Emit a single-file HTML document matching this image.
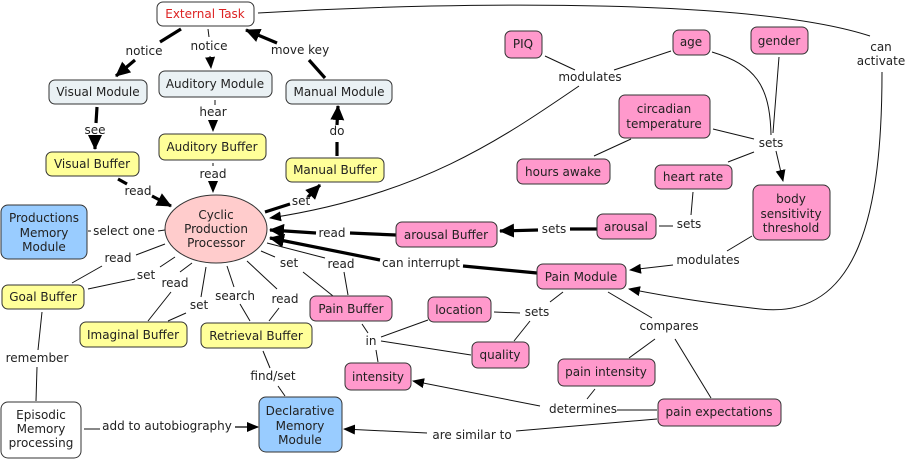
<!DOCTYPE html>
<html><head><meta charset="utf-8"><style>
html,body{margin:0;padding:0;background:#fff;}
svg{display:block;font-family:"DejaVu Sans","Liberation Sans",sans-serif;font-size:12px;}
text{fill:#222;}
.n{stroke:#333;stroke-width:1;}
.l{stroke:#111;stroke-width:1;fill:none;}
.t{stroke:#000;stroke-width:3.2;fill:none;}
</style></head><body>
<svg width="909" height="460" viewBox="0 0 909 460" xmlns="http://www.w3.org/2000/svg">
<defs>
<marker id="a" markerUnits="userSpaceOnUse" markerWidth="16" markerHeight="14" refX="14" refY="7" orient="auto"><path d="M0,0 L15,7 L0,14 z" fill="#000"/></marker>
<marker id="s" markerUnits="userSpaceOnUse" markerWidth="12" markerHeight="10" refX="11" refY="5" orient="auto"><path d="M0,0 L12,5 L0,10 z" fill="#000"/></marker>
</defs>

<!-- connectors -->
<line class="t" x1="181" y1="29" x2="160" y2="42"/><line class="t" x1="135" y1="60" x2="116" y2="76" marker-end="url(#a)"/>
<line class="l" x1="208" y1="29" x2="209" y2="37"/><line class="l" x1="210" y1="56" x2="211" y2="68" marker-end="url(#s)"/>
<line class="t" x1="325" y1="78" x2="309" y2="60"/><line class="t" x1="277" y1="43" x2="246" y2="30" marker-end="url(#a)"/>
<line class="t" x1="97" y1="107" x2="96" y2="123"/><line class="t" x1="95" y1="137" x2="95" y2="149" marker-end="url(#a)"/>
<line class="l" x1="215" y1="100" x2="215" y2="105"/><line class="l" x1="213" y1="120" x2="213" y2="131" marker-end="url(#s)"/>
<line class="l" x1="213" y1="163" x2="213" y2="166"/><line class="l" x1="213" y1="181" x2="213" y2="192" marker-end="url(#s)"/>
<line class="t" x1="337" y1="156" x2="337" y2="142"/><line class="t" x1="337" y1="125" x2="338" y2="106" marker-end="url(#a)"/>
<line class="t" x1="118" y1="179" x2="127" y2="184"/><line class="t" x1="152" y1="196" x2="171" y2="206" marker-end="url(#a)"/>
<line class="t" x1="265" y1="212" x2="290" y2="204"/><line class="t" x1="308" y1="197" x2="320" y2="185" marker-end="url(#a)"/>
<line class="l" x1="88" y1="231" x2="91" y2="231"/><line class="l" x1="158" y1="231" x2="165" y2="230"/>
<line class="t" x1="396" y1="235" x2="350" y2="233"/><line class="t" x1="316" y1="233" x2="270" y2="230" marker-end="url(#a)"/>
<line class="t" x1="597" y1="229" x2="570" y2="229"/><line class="t" x1="538" y1="230" x2="500" y2="231" marker-end="url(#a)"/>
<line class="l" x1="693" y1="192" x2="691" y2="215"/><line class="l" x1="659" y1="226" x2="673" y2="226"/>
<line class="t" x1="537" y1="273" x2="463" y2="266"/><line class="t" x1="380" y1="260" x2="270" y2="238" marker-end="url(#a)"/>
<line class="l" x1="165" y1="244" x2="136" y2="255"/><line class="l" x1="102" y1="266" x2="72" y2="283"/>
<line class="l" x1="88" y1="289" x2="135" y2="279"/><line class="l" x1="160" y1="267" x2="175" y2="257"/>
<line class="l" x1="148" y1="321" x2="171" y2="292"/><line class="l" x1="180" y1="272" x2="192" y2="263"/>
<line class="l" x1="168" y1="321" x2="186" y2="313"/><line class="l" x1="201" y1="297" x2="206" y2="267"/>
<line class="l" x1="250" y1="321" x2="240" y2="304"/><line class="l" x1="234" y1="287" x2="227" y2="266"/>
<line class="l" x1="269" y1="321" x2="279" y2="308"/><line class="l" x1="277" y1="289" x2="247" y2="261"/>
<line class="l" x1="261" y1="251" x2="275" y2="257"/><line class="l" x1="303" y1="272" x2="333" y2="296"/>
<line class="l" x1="267" y1="243" x2="325" y2="258"/><line class="l" x1="344" y1="272" x2="348" y2="295"/>
<line class="l" x1="42" y1="312" x2="38" y2="350"/><line class="l" x1="37" y1="367" x2="36" y2="401"/>
<line class="l" x1="263" y1="351" x2="270" y2="368"/><line class="l" x1="278" y1="386" x2="285" y2="396"/>
<line class="l" x1="84" y1="429" x2="100" y2="429"/><line class="t" style="stroke-width:1.2" x1="235" y1="427" x2="258" y2="427" marker-end="url(#s)"/>
<line class="l" x1="362" y1="324" x2="368" y2="333"/><line class="l" x1="376" y1="350" x2="378" y2="362"/>
<line class="l" x1="381" y1="337" x2="428" y2="320"/><line class="l" x1="381" y1="341" x2="471" y2="355"/>
<line class="l" x1="563" y1="292" x2="550" y2="302"/><line class="l" x1="494" y1="312" x2="520" y2="313"/><line class="l" x1="530" y1="321" x2="514" y2="341"/>
<line class="l" x1="608" y1="292" x2="652" y2="318"/><line class="l" x1="655" y1="339" x2="629" y2="358"/><line class="l" x1="675" y1="339" x2="711" y2="398"/>
<line class="l" x1="595" y1="389" x2="587" y2="399"/><line class="l" x1="657" y1="410" x2="617" y2="410"/><line class="l" x1="540" y1="406" x2="413" y2="381" marker-end="url(#s)"/>
<line class="l" x1="657" y1="419" x2="516" y2="431"/><line class="l" x1="427" y1="433" x2="344" y2="429" marker-end="url(#s)"/>
<line class="l" x1="752" y1="236" x2="727" y2="251"/><line class="l" x1="673" y1="265" x2="630" y2="270" marker-end="url(#s)"/>
<path class="l" d="M258,13 C480,0 760,0 870,36"/>
<path class="l" d="M882,72 C882,210 860,320 760,309 C700,302 665,296 629,289" marker-end="url(#s)"/>
<line class="l" x1="545" y1="56" x2="575" y2="70"/><line class="l" x1="671" y1="51" x2="614" y2="70"/>
<path class="l" d="M579,86 C500,140 420,195 270,218" marker-end="url(#s)"/>
<path class="l" d="M712,52 C755,65 770,85 771,135"/>
<line class="l" x1="779" y1="57" x2="773" y2="133"/>
<line class="l" x1="713" y1="129" x2="754" y2="139"/><line class="l" x1="754" y1="152" x2="728" y2="162"/>
<line class="l" x1="776" y1="151" x2="783" y2="181" marker-end="url(#s)"/>
<line class="l" x1="594" y1="156" x2="631" y2="139"/>

<!-- nodes -->
<g class="n">
<rect x="157" y="2" width="97" height="24" rx="6" fill="#fff"/>
<rect x="49" y="80" width="98" height="24" rx="6" fill="#eaf1f4"/>
<rect x="159" y="71" width="113" height="26" rx="6" fill="#eaf1f4"/>
<rect x="286" y="80" width="106" height="24" rx="6" fill="#eaf1f4"/>
<rect x="46" y="152" width="93" height="24" rx="6" fill="#ffff99"/>
<rect x="159" y="134" width="107" height="26" rx="6" fill="#ffff99"/>
<rect x="286" y="158" width="98" height="24" rx="6" fill="#ffff99"/>
<rect x="1" y="205" width="86" height="54" rx="7" fill="#99ccff"/>
<ellipse cx="216" cy="229" rx="51" ry="34" fill="#ffcccc"/>
<rect x="396" y="222" width="101" height="25" rx="6" fill="#ff99cc"/>
<rect x="2" y="285" width="82" height="24" rx="6" fill="#ffff99"/>
<rect x="80" y="322" width="107" height="25" rx="6" fill="#ffff99"/>
<rect x="201" y="323" width="111" height="25" rx="6" fill="#ffff99"/>
<rect x="310" y="296" width="82" height="25" rx="6" fill="#ff99cc"/>
<rect x="345" y="363" width="66" height="27" rx="6" fill="#ff99cc"/>
<rect x="259" y="397" width="83" height="55" rx="7" fill="#99ccff"/>
<rect x="1" y="402" width="80" height="56" rx="7" fill="#fff"/>
<rect x="428" y="297" width="63" height="25" rx="6" fill="#ff99cc"/>
<rect x="472" y="342" width="57" height="26" rx="6" fill="#ff99cc"/>
<rect x="505" y="31" width="37" height="27" rx="6" fill="#ff99cc"/>
<rect x="673" y="30" width="37" height="25" rx="6" fill="#ff99cc"/>
<rect x="751" y="27" width="57" height="27" rx="6" fill="#ff99cc"/>
<rect x="619" y="95" width="91" height="43" rx="6" fill="#ff99cc"/>
<rect x="517" y="159" width="93" height="25" rx="6" fill="#ff99cc"/>
<rect x="655" y="165" width="77" height="24" rx="6" fill="#ff99cc"/>
<rect x="753" y="185" width="77" height="55" rx="7" fill="#ff99cc"/>
<rect x="597" y="214" width="59" height="25" rx="6" fill="#ff99cc"/>
<rect x="537" y="264" width="89" height="25" rx="6" fill="#ff99cc"/>
<rect x="558" y="359" width="97" height="27" rx="6" fill="#ff99cc"/>
<rect x="658" y="399" width="123" height="27" rx="6" fill="#ff99cc"/>
</g>

<g text-anchor="middle">
<text x="205" y="18" style="fill:#d22">External Task</text>
<text x="98" y="96">Visual Module</text>
<text x="215" y="88">Auditory Module</text>
<text x="339" y="96">Manual Module</text>
<text x="92" y="168">Visual Buffer</text>
<text x="212" y="151">Auditory Buffer</text>
<text x="335" y="174">Manual Buffer</text>
<text x="44" y="222">Productions</text><text x="44" y="237">Memory</text><text x="44" y="251">Module</text>
<text x="216" y="219">Cyclic</text><text x="216" y="233">Production</text><text x="216" y="247">Processor</text>
<text x="446" y="239">arousal Buffer</text>
<text x="43" y="301">Goal Buffer</text>
<text x="133" y="339">Imaginal Buffer</text>
<text x="256" y="340">Retrieval Buffer</text>
<text x="351" y="313">Pain Buffer</text>
<text x="378" y="381">intensity</text>
<text x="300" y="415">Declarative</text><text x="300" y="430">Memory</text><text x="300" y="444">Module</text>
<text x="41" y="419">Episodic</text><text x="41" y="433">Memory</text><text x="41" y="447">processing</text>
<text x="459" y="314">location</text>
<text x="500" y="359">quality</text>
<text x="523" y="48">PIQ</text>
<text x="691" y="46">age</text>
<text x="779" y="45">gender</text>
<text x="664" y="113">circadian</text><text x="664" y="128">temperature</text>
<text x="563" y="176">hours awake</text>
<text x="693" y="181">heart rate</text>
<text x="791" y="203">body</text><text x="791" y="218">sensitivity</text><text x="791" y="232">threshold</text>
<text x="626" y="231">arousal</text>
<text x="581" y="281">Pain Module</text>
<text x="606" y="376">pain intensity</text>
<text x="719" y="416">pain expectations</text>

<!-- link labels -->
<text x="144" y="55">notice</text>
<text x="209" y="50">notice</text>
<text x="300" y="54">move key</text>
<text x="95" y="134">see</text>
<text x="213" y="116">hear</text>
<text x="213" y="178">read</text>
<text x="337" y="135">do</text>
<text x="138" y="195">read</text>
<text x="301" y="205">set</text>
<text x="124" y="235">select one</text>
<text x="332" y="237">read</text>
<text x="118" y="262">read</text>
<text x="146" y="279">set</text>
<text x="175" y="287">read</text>
<text x="199" y="309">set</text>
<text x="235" y="300">search</text>
<text x="285" y="303">read</text>
<text x="289" y="267">set</text>
<text x="341" y="268">read</text>
<text x="421" y="267">can interrupt</text>
<text x="554" y="233">sets</text>
<text x="689" y="228">sets</text>
<text x="771" y="147">sets</text>
<text x="590" y="81">modulates</text>
<text x="708" y="264">modulates</text>
<text x="881" y="51">can</text><text x="881" y="65">activate</text>
<text x="37" y="362">remember</text>
<text x="273" y="380">find/set</text>
<text x="167" y="430">add to autobiography</text>
<text x="371" y="345">in</text>
<text x="537" y="316">sets</text>
<text x="669" y="330">compares</text>
<text x="583" y="413">determines</text>
<text x="472" y="439">are similar to</text>
</g>
</svg>
</body></html>
